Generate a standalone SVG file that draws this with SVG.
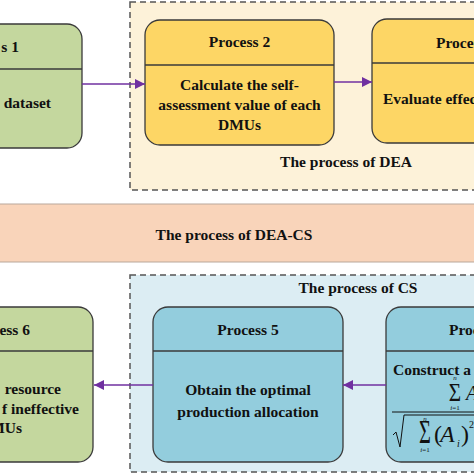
<svg xmlns="http://www.w3.org/2000/svg" width="474" height="474" viewBox="0 0 474 474">
<defs>
<style>
.t{font-family:"Liberation Serif","Times New Roman",serif;font-weight:bold;font-size:15.5px;fill:#111;}
.m{font-family:"Liberation Serif","Times New Roman",serif;fill:#111;}
.box{stroke:#3a3a3a;stroke-width:1.3;}
.div{stroke:#3a3a3a;stroke-width:1.3;}
.g{fill:#c4d79e;}
.y{fill:#fdd665;}
.b{fill:#93cddd;}
.cont{stroke:#555;stroke-width:1.5;stroke-dasharray:6 4;}
.arr{stroke:#7030a0;stroke-width:1.6;fill:none;marker-end:url(#ah);}
</style>
<marker id="ah" viewBox="0 0 10 10" refX="10" refY="5" markerWidth="10" markerHeight="10" markerUnits="userSpaceOnUse" orient="auto">
<path d="M0,0 L10,5 L0,10 z" fill="#7030a0"/>
</marker>
</defs>
<rect width="474" height="474" fill="#ffffff"/>

<g id="dea-container">
<rect class="cont" x="130" y="2" width="360" height="188" fill="#fdf2d9"/>
<text class="t" x="346" y="167" text-anchor="middle">The process of DEA</text>
</g>

<g id="cs-container">
<rect class="cont" x="130" y="275" width="360" height="197" fill="#dcedf3"/>
<text class="t" x="358" y="293" text-anchor="middle">The process of CS</text>
</g>

<g id="dea-cs-band">
<rect x="-2" y="204" width="478" height="58" fill="#f9d4ba" stroke="#b9a89b" stroke-width="1"/>
<text class="t" x="234" y="240" text-anchor="middle">The process of DEA-CS</text>
</g>

<g id="process1">
<rect class="box g" x="-20" y="24" width="102" height="124" rx="15"/>
<line class="div" x1="-20" y1="69" x2="82" y2="69"/>
<text class="t" x="19" y="52" text-anchor="end">s 1</text>
<text class="t" x="51" y="108" text-anchor="end">dataset</text>
</g>

<g id="process2">
<rect class="box y" x="145" y="20" width="189" height="125" rx="15"/>
<line class="div" x1="145" y1="65" x2="334" y2="65"/>
<text class="t" x="239.5" y="47" text-anchor="middle">Process 2</text>
<text class="t" x="239.5" y="90" text-anchor="middle">Calculate the self-</text>
<text class="t" x="239.5" y="110" text-anchor="middle">assessment value of each</text>
<text class="t" x="239.5" y="130" text-anchor="middle">DMUs</text>
</g>

<g id="process3">
<rect class="box y" x="372" y="19" width="130" height="124" rx="15"/>
<line class="div" x1="372" y1="63" x2="474" y2="63"/>
<text class="t" x="436" y="48">Proce</text>
<text class="t" x="383" y="104">Evaluate effec</text>
</g>

<g id="process4">
<rect class="box b" x="386" y="307" width="130" height="155" rx="15"/>
<line class="div" x1="386" y1="351" x2="474" y2="351"/>
<text class="t" x="449" y="335">Proc</text>
<text class="t" x="393" y="375">Construct a</text>
<text class="m" x="455" y="380" font-size="7" font-style="italic" text-anchor="middle">n</text>
<text class="m" x="455" y="401" font-size="25" text-anchor="middle" transform="translate(455 401) scale(0.85 1) translate(-455 -401)">Σ</text>
<text class="m" x="455" y="410" font-size="7" text-anchor="middle"><tspan font-style="italic">i</tspan>=1</text>
<text class="m" x="466" y="400" font-size="20" font-style="italic">A</text>
<line x1="392" y1="412" x2="474" y2="412" stroke="#111" stroke-width="1"/>
<path d="M393,435 L396,432 L400,447 L404,415 L474,415" fill="none" stroke="#111" stroke-width="1"/>
<text class="m" x="425" y="421" font-size="7" font-style="italic" text-anchor="middle">n</text>
<text class="m" x="425" y="443" font-size="34" text-anchor="middle" transform="translate(425 443) scale(0.6 1) translate(-425 -443)">Σ</text>
<text class="m" x="425" y="452" font-size="7" text-anchor="middle"><tspan font-style="italic">i</tspan>=1</text>
<text class="m" x="434" y="442" font-size="24">(</text>
<text class="m" x="440" y="442" font-size="24" font-style="italic">A</text>
<text class="m" x="457" y="447" font-size="10" font-style="italic">i</text>
<text class="m" x="461" y="442" font-size="24">)</text>
<text class="m" x="469" y="428" font-size="10">2</text>
</g>

<g id="process5">
<rect class="box b" x="153" y="307" width="190" height="155" rx="15"/>
<line class="div" x1="153" y1="351" x2="343" y2="351"/>
<text class="t" x="248" y="335" text-anchor="middle">Process 5</text>
<text class="t" x="248" y="395" text-anchor="middle">Obtain the optimal</text>
<text class="t" x="248" y="417" text-anchor="middle">production allocation</text>
</g>

<g id="process6">
<rect class="box g" x="-20" y="307" width="113" height="155" rx="15"/>
<line class="div" x1="-20" y1="351" x2="93" y2="351"/>
<text class="t" x="30" y="335" text-anchor="end">ess 6</text>
<text class="t" x="61" y="394" text-anchor="end">resource</text>
<text class="t" x="79" y="414" text-anchor="end">f ineffective</text>
<text class="t" x="22" y="433" text-anchor="end">MUs</text>
</g>

<g id="connectors">
<line class="arr" x1="82" y1="84" x2="145" y2="84"/>
<line class="arr" x1="334" y1="82" x2="372" y2="82"/>
<line class="arr" x1="386" y1="385" x2="343" y2="385"/>
<line class="arr" x1="153" y1="385" x2="94" y2="385"/>
</g>
</svg>
